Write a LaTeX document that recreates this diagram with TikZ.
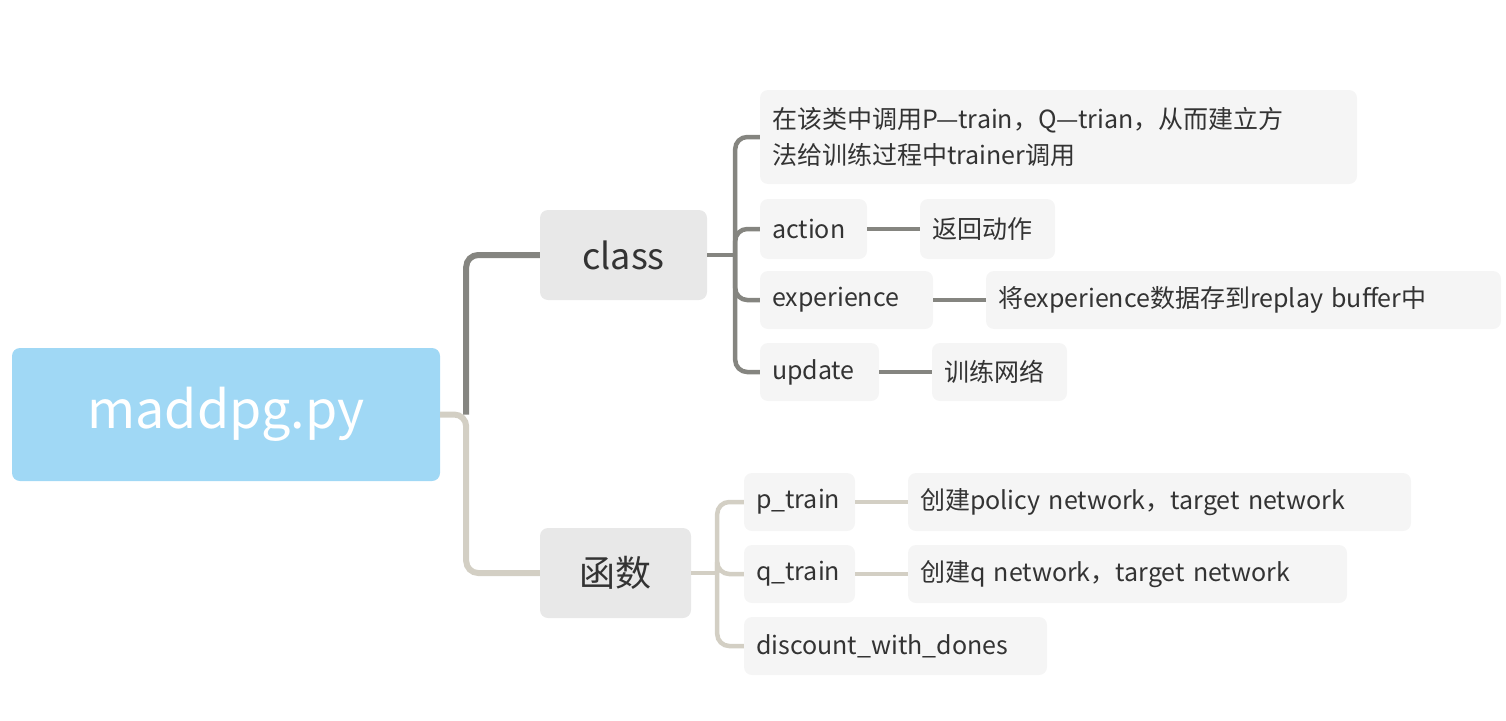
\documentclass[tikz,border=0pt]{standalone}
\usepackage{fontspec}
\usetikzlibrary{calc}
\setmainfont{Noto Sans CJK SC}
\definecolor{tx}{HTML}{333333}
\definecolor{dk}{HTML}{858580}
\definecolor{lt}{HTML}{D3CFC4}
\begin{document}
\begin{tikzpicture}[x=1pt,y=-1pt,
  bx/.style={rounded corners=8pt,inner sep=0pt,text=tx,font=\fontsize{25}{36}\selectfont},
  leaf/.style={bx,fill=black!4},
  mid/.style={bx,fill=black!9,font=\fontsize{36}{40}\selectfont},
  dl/.style={draw=dk,line width=4.5pt,rounded corners=12pt},
  ll/.style={draw=lt,line width=4.5pt,rounded corners=12pt}]
\newcommand\nd[7]{\node[#6,minimum width=#4-#2,minimum height=#5-#3] (#1) at ({(#2+#4)/2},{(#3+#5)/2}) {#7};}
\newcommand\lf[6]{\node[leaf,minimum height=#5-#3,text width=#4-#2-24,inner xsep=12pt,align=left] (#1) at ({(#2+#4)/2},{(#3+#5)/2}) {#6};}
\useasboundingbox (0,0) rectangle (1506,720);
\nd{root}{12}{348}{440}{481}{bx,fill={rgb,255:red,160;green,216;blue,245},text=white,font=\fontsize{52}{60}\selectfont}{maddpg.py}
\nd{cls}{540}{210}{707}{300}{mid}{class}
\nd{fn}{540}{528}{691}{618}{mid}{函数}
\lf{t}{760}{90}{1357}{184}{在该类中调用P—train，Q—trian，从而建立方\\法给训练过程中trainer调用}
\lf{act}{760}{199}{867}{259}{action}
\lf{acd}{920}{199}{1055}{259}{返回动作}
\lf{exp}{760}{271}{933}{329}{experience}
\lf{exd}{986}{271}{1501}{329}{将experience数据存到replay buffer中}
\lf{up}{760}{343}{879}{401}{update}
\lf{upd}{932}{343}{1067}{401}{训练网络}
\lf{p}{744}{473}{855}{531}{p\_train}
\lf{pd}{908}{473}{1411}{531}{创建policy network，target network}
\lf{q}{744}{545}{855}{603}{q\_train}
\lf{qd}{908}{545}{1347}{603}{创建q network，target network}
\lf{dwd}{744}{617}{1047}{675}{discount\_with\_dones}
\coordinate (rj) at ($(root.east)+(26,0)$);
\coordinate (cj) at ($(cls.east)+(28,0)$);
\coordinate (fj) at ($(fn.east)+(26,0)$);
\draw[ll,line width=6pt] (root.east) -- (rj) |- (fn.west);
\draw[dl,line width=6pt] (rj) |- (cls.west);
\draw[dl] (cls.east) -- (cj);
\draw[dl] (t.west) -| (cj) |- (up.west);
\draw[dl] (cj) |- (act.west);
\draw[dl] (cj) |- (exp.west);
\draw[dl] (act.east) -- (acd.west);
\draw[dl] (exp.east) -- (exd.west);
\draw[dl] (up.east) -- (upd.west);
\draw[ll] (fn.east) -- (fj);
\draw[ll] (p.west) -| (fj) |- (dwd.west);
\draw[ll] (fj) |- (q.west);
\draw[ll] (p.east) -- (pd.west);
\draw[ll] (q.east) -- (qd.west);
\end{tikzpicture}
\end{document}
